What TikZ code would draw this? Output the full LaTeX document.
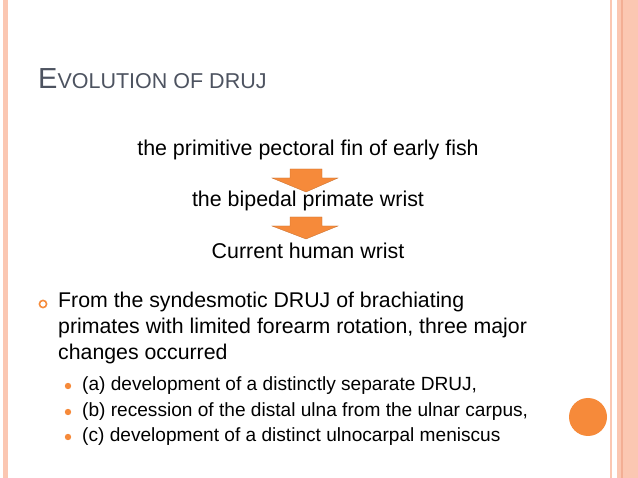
\documentclass[tikz,border=0pt]{standalone}
\usepackage{fontspec}
\setmainfont{Liberation Sans}
\definecolor{org}{HTML}{F68A3A}
\definecolor{pk}{HTML}{FBC7B2}
\definecolor{pkd}{HTML}{F3AE94}
\definecolor{tgray}{HTML}{4D5360}
\begin{document}
\begin{tikzpicture}[x=1pt,y=-1pt,
 txt/.style={inner sep=0pt,font=\fontsize{21.4}{24}\selectfont},
 sub/.style={inner sep=0pt,anchor=west,font=\fontsize{19.1}{22}\selectfont},
 dn/.style={fill=org,draw=org!80!black,line width=0.3pt}]
\useasboundingbox (0,0) rectangle (638,478);
\fill[white] (0,0) rectangle (638,478);
% borders
\fill[pk] (3,0) rectangle (8,478);
\fill[pk] (610,0) rectangle (612,478);
\fill[pk] (617,0) rectangle (638,478);
\fill[pkd] (621,0) rectangle (623,478);
\fill[org] (588,417) circle (19);
% title
\node[anchor=base west,inner sep=0pt,text=tgray] (title) at (38,89)
 {\fontsize{29}{32}\selectfont E\fontsize{21.5}{24}\selectfont VOLUTION OF DRUJ};
\node[txt] (t1) at (308,150) {the primitive pectoral fin of early fish};
\node[txt] (t2) at (308,201) {the bipedal primate wrist};
\node[txt] (t3) at (308,251) {Current human wrist};
\draw[dn] (290,169) -- (322,169) -- (322,178) -- (338,178) -- (306,192) -- (272,178) -- (290,178) -- cycle;
\draw[dn] (290,217) -- (322,217) -- (322,226) -- (338,226) -- (306,239) -- (272,226) -- (290,226) -- cycle;
% bullets
\draw[org,line width=1.6pt] (43,304) circle (3.6);
\node[anchor=north west,inner sep=0pt,align=left,font=\fontsize{21.3}{26}\selectfont] (b1) at (58,292)
 {From the syndesmotic DRUJ of brachiating\\primates with limited forearm rotation, three major\\changes occurred};
\fill[org] (68,386) circle (3.2);
\fill[org] (68,412) circle (3.2);
\fill[org] (68,437) circle (3.2);
\node[sub] (s1) at (82,386) {(a) development of a distinctly separate DRUJ,};
\node[sub] (s2) at (82,412) {(b) recession of the distal ulna from the ulnar carpus,};
\node[sub] (s3) at (82,437) {(c) development of a distinct ulnocarpal meniscus};
\end{tikzpicture}
\end{document}
